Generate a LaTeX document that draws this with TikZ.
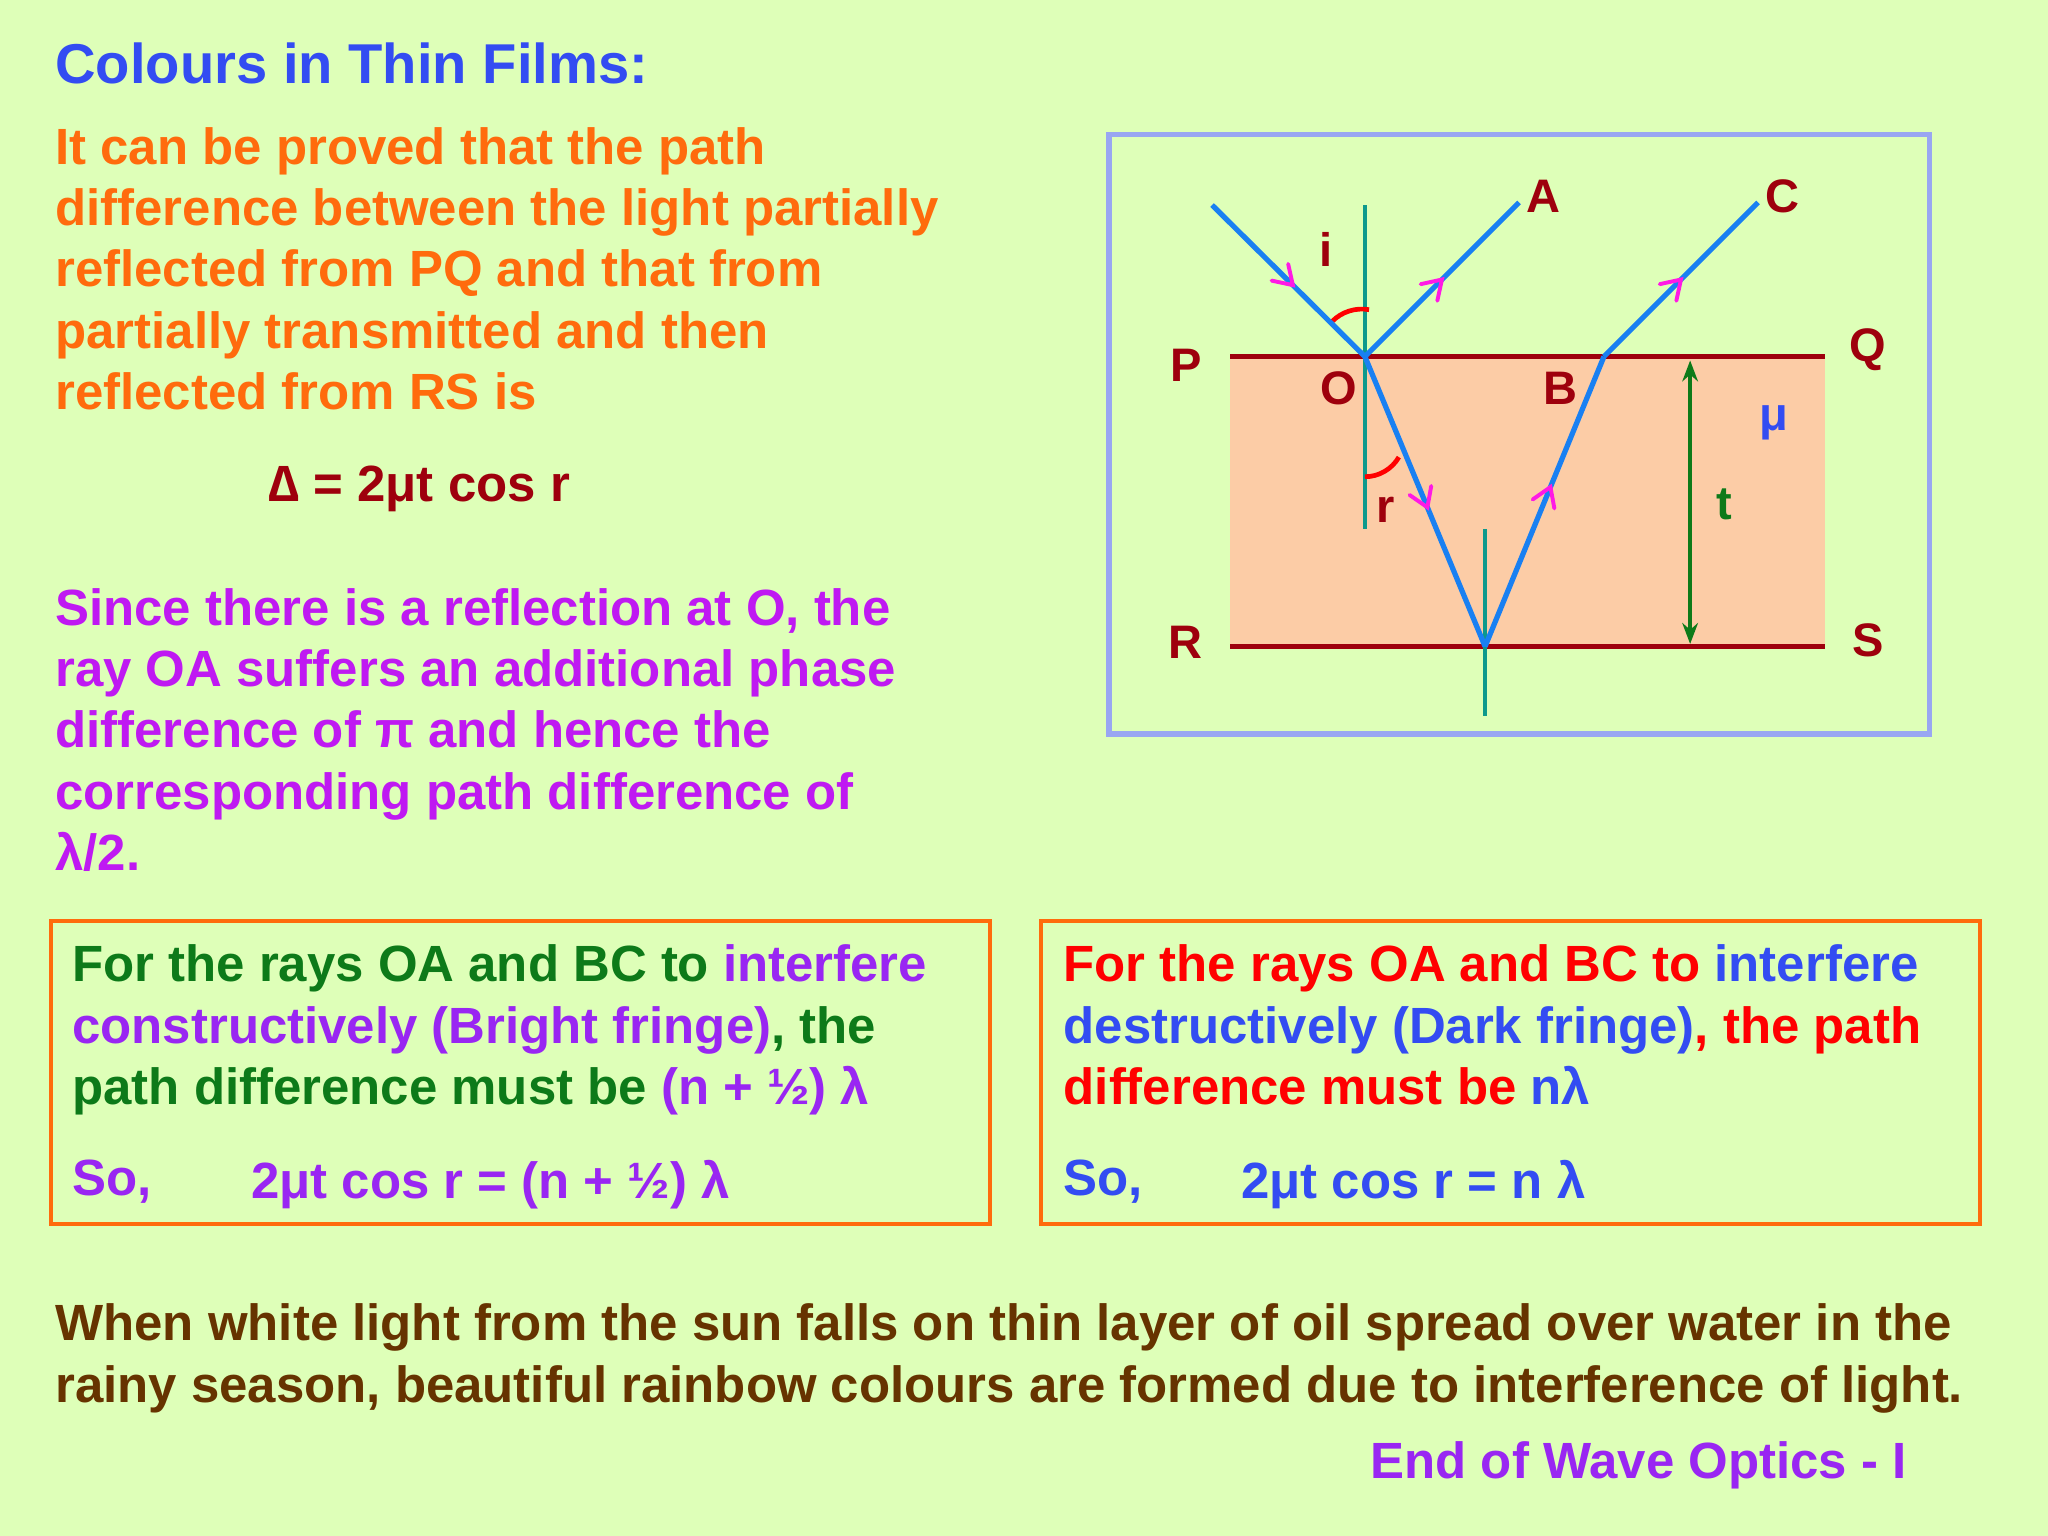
\documentclass[tikz,border=0pt]{standalone}
\usepackage{fontspec}
\setmainfont{Liberation Sans}
\usetikzlibrary{arrows.meta,decorations.markings}
\definecolor{bg}{rgb}{0.87,1,0.72}
\definecolor{tblue}{rgb}{0.2,0.3,0.95}
\definecolor{torange}{rgb}{1,0.42,0.05}
\definecolor{tgreen}{rgb}{0.05,0.48,0.1}
\definecolor{tmag}{rgb}{0.75,0.1,0.95}
\definecolor{tviol}{rgb}{0.6,0.15,0.95}
\definecolor{tdred}{rgb}{0.62,0,0.05}
\definecolor{tbrown}{rgb}{0.4,0.2,0}
\definecolor{tred}{rgb}{1,0,0}
\definecolor{ray}{rgb}{0.1,0.5,0.95}
\definecolor{film}{rgb}{0.99,0.8,0.65}
\definecolor{frame}{rgb}{0.6,0.65,0.95}
\definecolor{nrm}{rgb}{0.05,0.6,0.55}
\definecolor{amag}{rgb}{1,0.1,0.9}
\begin{document}
\begin{tikzpicture}[x=0.5pt,y=-0.5pt,
  txt/.style={anchor=north west,inner sep=0pt,align=left,font=\bfseries\fontsize{19.5}{23.5}\selectfont},
  lbl/.style={font=\bfseries\fontsize{18}{20}\selectfont,text=tdred,inner sep=0pt},
  rayl/.style={draw=ray,line width=2pt,postaction=decorate,decoration={markings,mark=at position #1 with {\draw[amag,line width=1.5pt,line cap=round] (-7pt,4.5pt) -- (0,0) -- (-7pt,-4.5pt);}}},
  obox/.style={draw=torange,line width=1.3pt}]
\fill[bg] (0,0) rectangle (1568,1176);
\useasboundingbox (0,0) rectangle (1568,1176);
\node[txt,text=tblue,font=\bfseries\fontsize{21.5}{24}\selectfont] (title) at (42,32) {Colours in Thin Films:};
\node[txt,text=torange] (p1) at (42,97) {It can be proved that the path\\difference between the light partially\\reflected from PQ and that from\\partially transmitted and then\\reflected from RS is};
\node[txt,text=tdred] (eq) at (205,356) {∆ = 2μt cos r};
\node[txt,text=tmag] (p2) at (42,450) {Since there is a reflection at O, the\\ray OA suffers an additional phase\\difference of π and hence the\\corresponding path difference of\\λ/2.};
% diagram
\draw[frame,line width=2pt] (849,103) rectangle (1477,562);
\fill[film] (942,273) rectangle (1397,495);
\draw[tdred,line width=2pt] (942,273) -- (1397,273);
\draw[tdred,line width=2pt] (942,495) -- (1397,495);
\coordinate (O) at (1045,273); \coordinate (B) at (1228,273); \coordinate (D) at (1137,495);
\coordinate (I) at (928,157); \coordinate (Ac) at (1163,155); \coordinate (Cc) at (1346,155);
\draw[nrm,line width=1.3pt] (1045,157) -- (1045,405);
\draw[nrm,line width=1.3pt] (1137,405) -- (1137,548);
\draw[red,line width=1.8pt] (1020,246) arc[start angle=225,end angle=280,radius=32];
\draw[red,line width=1.8pt] (1045,365) arc[start angle=90,end angle=30,radius=30] ;
\draw[rayl=0.53] (I) -- (O);
\draw[rayl=0.5] (O) -- (Ac);
\draw[rayl=0.52] (O) -- (D);
\draw[rayl=0.55] (D) -- (B);
\draw[rayl=0.5] (B) -- (Cc);
\draw[tgreen,line width=1.3pt,{Stealth[length=8pt]}-{Stealth[length=8pt]}] (1294,276) -- (1294,493);
\node[lbl] (lA) at (1182,150) {A};
\node[lbl] (lC) at (1365,150) {C};
\node[lbl] (lP) at (908,280) {P};
\node[lbl] (lQ) at (1430,268) {Q};
\node[lbl] (lR) at (908,492) {R};
\node[lbl] (lS) at (1430,490) {S};
\node[lbl] (lO) at (1025,297) {O};
\node[lbl] (lB) at (1195,297) {B};
\node[lbl] (li) at (1015,191) {i};
\node[lbl] (lr) at (1061,390) {r};
\node[lbl,text=tgreen] (lt) at (1320,386) {t};
\node[lbl,text=tblue] (lmu) at (1358,324) {μ};
% boxes
\draw[obox] (39,705) rectangle (758,937);
\draw[obox] (797,705) rectangle (1516,937);
\node[txt,text=tgreen] (b1) at (55,723) {For the rays OA and BC to {\color{tviol}interfere}\\{\color{tviol}constructively (Bright fringe)}, the\\path difference must be {\color{tviol}(n + ½) λ}};
\node[txt,text=tviol] (b1s) at (55,888) {So,};
\node[txt,text=tviol] (b1e) at (192,888) {2μt cos r = (n + ½) λ};
\node[txt,text=tred] (b2) at (814,723) {For the rays OA and BC to {\color{tblue}interfere}\\{\color{tblue}destructively (Dark fringe)}, the path\\difference must be {\color{tblue}nλ}};
\node[txt,text=tblue] (b2s) at (814,888) {So,};
\node[txt,text=tblue] (b2e) at (950,888) {2μt cos r = n λ};
\node[txt,text=tbrown] (p3) at (42,998) {When white light from the sun falls on thin layer of oil spread over water in the\\rainy season, beautiful rainbow colours are formed due to interference of light.};
\node[txt,text=tviol,anchor=north east] (end) at (1460,1103) {End of Wave Optics - I};
\end{tikzpicture}
\end{document}
